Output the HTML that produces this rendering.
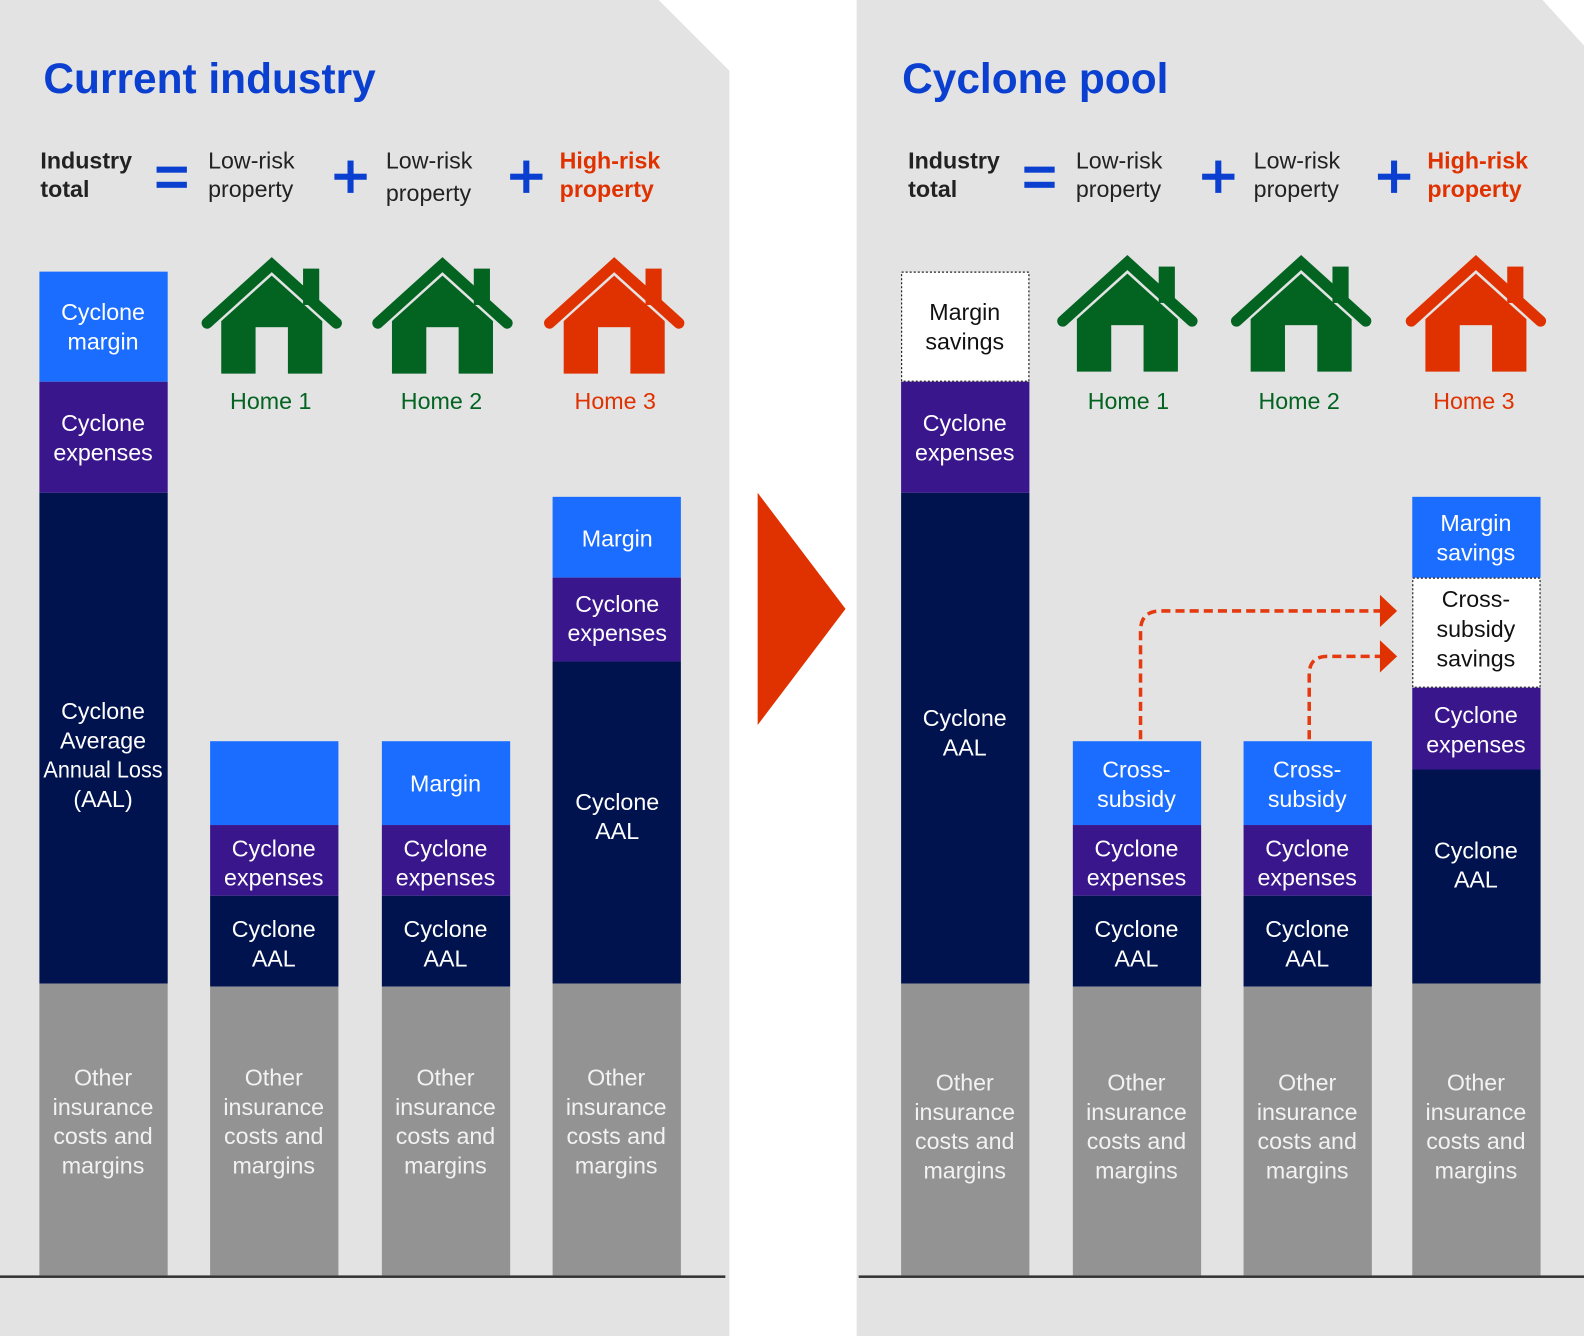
<!DOCTYPE html>
<html><head><meta charset="utf-8"><style>html,body{margin:0;padding:0;background:#fff}svg{display:block}</style></head><body>
<svg width="1584" height="1336" viewBox="0 0 1568 1323" preserveAspectRatio="none" xmlns="http://www.w3.org/2000/svg" font-family="Liberation Sans, sans-serif">
<defs>
<g id="house">
<polyline points="-64,64 0,6 64,64" fill="none" stroke="currentColor" stroke-width="11" stroke-linecap="round" stroke-linejoin="miter"/>
<rect x="31" y="10" width="16" height="36" fill="currentColor"/>
<polygon points="-50,62 0,17 50,62 50,114 -50,114" fill="currentColor"/>
<rect x="-16" y="68" width="32" height="48" fill="#e3e3e3"/>
</g>
</defs>
<polygon points="0,0 652,0 722,70 722,1323 0,1323" fill="#e3e3e3"/>
<polygon points="848,0 1527,0 1568,45 1568,1323 848,1323" fill="#e3e3e3"/>
<polygon points="750,488 837,603 750,718" fill="#e03200"/>

<text x="43" y="92" font-size="42" font-weight="bold" fill="#0a3fd0">Current industry</text>
<text x="893" y="92" font-size="42" font-weight="bold" fill="#0a3fd0">Cyclone pool</text>

<g font-size="23" fill="#222">
<text x="40" y="167" font-weight="bold">Industry</text><text x="40" y="195" font-weight="bold">total</text>
<text x="206" y="167">Low-risk</text><text x="206" y="195">property</text>
<text x="382" y="167">Low-risk</text><text x="382" y="199">property</text>
<text x="554" y="167" font-weight="bold" fill="#e03200">High-risk</text><text x="554" y="195" font-weight="bold" fill="#e03200">property</text>
<text x="899" y="167" font-weight="bold">Industry</text><text x="899" y="195" font-weight="bold">total</text>
<text x="1065" y="167">Low-risk</text><text x="1065" y="195">property</text>
<text x="1241" y="167">Low-risk</text><text x="1241" y="195">property</text>
<text x="1413" y="167" font-weight="bold" fill="#e03200">High-risk</text><text x="1413" y="195" font-weight="bold" fill="#e03200">property</text>
</g>
<g fill="#0a3fd0">
<rect x="155" y="165" width="30" height="6"/><rect x="155" y="180" width="30" height="6"/>
<rect x="1014" y="165" width="30" height="6"/><rect x="1014" y="180" width="30" height="6"/>
<rect x="331" y="172" width="32" height="6"/><rect x="344" y="159" width="6" height="32"/>
<rect x="505" y="172" width="32" height="6"/><rect x="518" y="159" width="6" height="32"/>
<rect x="1190" y="172" width="32" height="6"/><rect x="1203" y="159" width="6" height="32"/>
<rect x="1364" y="172" width="32" height="6"/><rect x="1377" y="159" width="6" height="32"/>
</g>

<use href="#house" x="269" y="256" color="#036321"/>
<use href="#house" x="438" y="256" color="#036321"/>
<use href="#house" x="608" y="256" color="#e03200"/>
<use href="#house" x="1116" y="254" color="#036321"/>
<use href="#house" x="1288" y="254" color="#036321"/>
<use href="#house" x="1461" y="254" color="#e03200"/>
<g font-size="23" text-anchor="middle">
<text x="268" y="405" fill="#036321">Home 1</text><text x="437" y="405" fill="#036321">Home 2</text><text x="609" y="405" fill="#e03200">Home 3</text>
<text x="1117" y="405" fill="#036321">Home 1</text><text x="1286" y="405" fill="#036321">Home 2</text><text x="1459" y="405" fill="#e03200">Home 3</text>
</g>

<g>
<rect x="39" y="269" width="127" height="109" fill="#1a6dff"/>
<rect x="39" y="378" width="127" height="110" fill="#3a168c"/>
<rect x="39" y="488" width="127" height="486" fill="#00134f"/>
<rect x="39" y="974" width="127" height="289" fill="#939393"/>
<rect x="208" y="734" width="127" height="83" fill="#1a6dff"/>
<rect x="208" y="817" width="127" height="70" fill="#3a168c"/>
<rect x="208" y="887" width="127" height="90" fill="#00134f"/>
<rect x="208" y="977" width="127" height="286" fill="#939393"/>
<rect x="378" y="734" width="127" height="83" fill="#1a6dff"/>
<rect x="378" y="817" width="127" height="70" fill="#3a168c"/>
<rect x="378" y="887" width="127" height="90" fill="#00134f"/>
<rect x="378" y="977" width="127" height="286" fill="#939393"/>
<rect x="547" y="492" width="127" height="80" fill="#1a6dff"/>
<rect x="547" y="572" width="127" height="83" fill="#3a168c"/>
<rect x="547" y="655" width="127" height="319" fill="#00134f"/>
<rect x="547" y="974" width="127" height="289" fill="#939393"/>

<rect x="892.5" y="269.5" width="126" height="108" fill="#fff" stroke="#222" stroke-width="1.2" stroke-dasharray="2,2"/>
<rect x="892" y="378" width="127" height="110" fill="#3a168c"/>
<rect x="892" y="488" width="127" height="486" fill="#00134f"/>
<rect x="892" y="974" width="127" height="289" fill="#939393"/>
<rect x="1062" y="734" width="127" height="83" fill="#1a6dff"/>
<rect x="1062" y="817" width="127" height="70" fill="#3a168c"/>
<rect x="1062" y="887" width="127" height="90" fill="#00134f"/>
<rect x="1062" y="977" width="127" height="286" fill="#939393"/>
<rect x="1231" y="734" width="127" height="83" fill="#1a6dff"/>
<rect x="1231" y="817" width="127" height="70" fill="#3a168c"/>
<rect x="1231" y="887" width="127" height="90" fill="#00134f"/>
<rect x="1231" y="977" width="127" height="286" fill="#939393"/>
<rect x="1398" y="492" width="127" height="80" fill="#1a6dff"/>
<rect x="1398.5" y="572.5" width="126" height="108" fill="#fff" stroke="#222" stroke-width="1.2" stroke-dasharray="2,2"/>
<rect x="1398" y="681" width="127" height="81" fill="#3a168c"/>
<rect x="1398" y="762" width="127" height="212" fill="#00134f"/>
<rect x="1398" y="974" width="127" height="289" fill="#939393"/>
</g>
<rect x="0" y="1263" width="718" height="2.5" fill="#333"/>
<rect x="850" y="1263" width="718" height="2.5" fill="#333"/>

<g fill="none" stroke="#e53a10" stroke-width="3.5" stroke-dasharray="9,5">
<path d="M1129,732 V625 Q1129,605 1149,605 H1368"/>
<path d="M1296,732 V668 Q1296,650 1314,650 H1368"/>
</g>
<polygon points="1366,589 1383,605 1366,621" fill="#e03200"/>
<polygon points="1366,634 1383,650 1366,666" fill="#e03200"/>

<g font-size="23" text-anchor="middle" fill="#fff">
<text x="102" y="317">Cyclone</text><text x="102" y="346">margin</text>
<text x="102" y="427">Cyclone</text><text x="102" y="456">expenses</text>
<text x="102" y="712">Cyclone</text><text x="102" y="741">Average</text><text x="102" y="770" textLength="118" lengthAdjust="spacingAndGlyphs">Annual Loss</text><text x="102" y="799">(AAL)</text>
<text x="271" y="848">Cyclone</text><text x="271" y="877">expenses</text>
<text x="271" y="928">Cyclone</text><text x="271" y="957">AAL</text>
<text x="441" y="784">Margin</text>
<text x="441" y="848">Cyclone</text><text x="441" y="877">expenses</text>
<text x="441" y="928">Cyclone</text><text x="441" y="957">AAL</text>
<text x="611" y="541">Margin</text>
<text x="611" y="606">Cyclone</text><text x="611" y="635">expenses</text>
<text x="611" y="802">Cyclone</text><text x="611" y="831">AAL</text>

<text x="955" y="427">Cyclone</text><text x="955" y="456">expenses</text>
<text x="955" y="719">Cyclone</text><text x="955" y="748">AAL</text>
<text x="1125" y="770">Cross-</text><text x="1125" y="799">subsidy</text>
<text x="1125" y="848">Cyclone</text><text x="1125" y="877">expenses</text>
<text x="1125" y="928">Cyclone</text><text x="1125" y="957">AAL</text>
<text x="1294" y="770">Cross-</text><text x="1294" y="799">subsidy</text>
<text x="1294" y="848">Cyclone</text><text x="1294" y="877">expenses</text>
<text x="1294" y="928">Cyclone</text><text x="1294" y="957">AAL</text>
<text x="1461" y="526">Margin</text><text x="1461" y="555">savings</text>
<text x="1461" y="716">Cyclone</text><text x="1461" y="745">expenses</text>
<text x="1461" y="850">Cyclone</text><text x="1461" y="879">AAL</text>
</g>
<g font-size="23" text-anchor="middle" fill="#111">
<text x="955" y="317">Margin</text><text x="955" y="346">savings</text>
<text x="1461" y="601">Cross-</text><text x="1461" y="631">subsidy</text><text x="1461" y="660">savings</text>
</g>
<g font-size="23" text-anchor="middle" fill="#f2f2f2">
<text x="102" y="1075">Other</text><text x="102" y="1104">insurance</text><text x="102" y="1133">costs and</text><text x="102" y="1162">margins</text>
<text x="271" y="1075">Other</text><text x="271" y="1104">insurance</text><text x="271" y="1133">costs and</text><text x="271" y="1162">margins</text>
<text x="441" y="1075">Other</text><text x="441" y="1104">insurance</text><text x="441" y="1133">costs and</text><text x="441" y="1162">margins</text>
<text x="610" y="1075">Other</text><text x="610" y="1104">insurance</text><text x="610" y="1133">costs and</text><text x="610" y="1162">margins</text>
<text x="955" y="1080">Other</text><text x="955" y="1109">insurance</text><text x="955" y="1138">costs and</text><text x="955" y="1167">margins</text>
<text x="1125" y="1080">Other</text><text x="1125" y="1109">insurance</text><text x="1125" y="1138">costs and</text><text x="1125" y="1167">margins</text>
<text x="1294" y="1080">Other</text><text x="1294" y="1109">insurance</text><text x="1294" y="1138">costs and</text><text x="1294" y="1167">margins</text>
<text x="1461" y="1080">Other</text><text x="1461" y="1109">insurance</text><text x="1461" y="1138">costs and</text><text x="1461" y="1167">margins</text>
</g>
</svg>
</body></html>
